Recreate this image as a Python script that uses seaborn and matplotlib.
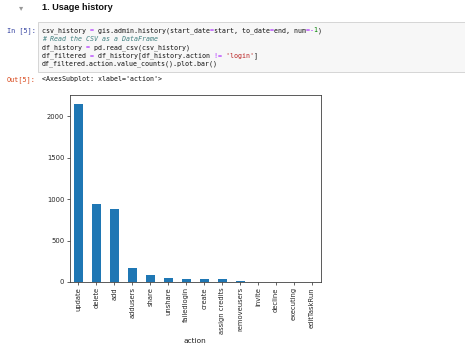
import matplotlib
matplotlib.use("Agg")
import matplotlib.pyplot as plt
import seaborn as sns
import pandas as pd
from matplotlib.patches import Rectangle

# bar data
actions = ["update", "delete", "add", "addusers", "share", "unshare", "failedlogin",
           "create", "assign credits", "removeusers", "invite", "decline",
           "executing", "editTaskRun"]
counts = [2150, 945, 880, 165, 85, 45, 36, 36, 36, 10, 6, 5, 1, 1]

# notebook text
heading = "1. Usage history"
code_lines = [
    [("csv_history ", "k"), ("=", "op"), (" gis.admin.history(start_date", "k"), ("=", "op"),
     ("start, to_date", "k"), ("=", "op"), ("end, num", "k"), ("=-", "op"), ("1", "num"), (")", "k")],
    [("# Read the CSV as a DataFrame", "com")],
    [("df_history ", "k"), ("=", "op"), (" pd.read_csv(csv_history)", "k")],
    [("df_filtered ", "k"), ("=", "op"), (" df_history[df_history.action ", "k"), ("!=", "op"),
     (" ", "k"), ("'login'", "str"), ("]", "k")],
    [("df_filtered.action.value_counts().plot.bar()", "k")],
]
out_text = "<AxesSubplot: xlabel='action'>"

colors = {"k": "#111111", "op": "#AA22FF", "num": "#008000", "str": "#BA2121", "com": "#408080"}

sns.set_style("ticks", {"axes.edgecolor": "0.25", "xtick.color": "0.15", "ytick.color": "0.15"})

W, H = 465, 356
fig = plt.figure(figsize=(W / 100, H / 100), dpi=100)


def fx(px):
    return px / W


def fy(py):
    return 1 - py / H


# heading
fig.text(fx(19), fy(8), "\u25be", fontsize=6, color="#999999", va="center", family="DejaVu Sans")
fig.text(fx(42), fy(8), heading, fontsize=6.6, fontweight="bold", va="center",
         family="Liberation Sans", color="#111111")

# code cell
fig.patches.append(Rectangle((fx(38), fy(72)), fx(W - 38), 50 / H, transform=fig.transFigure,
                             facecolor="#f7f7f7", edgecolor="#cfcfcf", linewidth=0.6))
fig.text(fx(7), fy(30.5), "In [5]:", fontsize=4.9, family="DejaVu Sans Mono",
         color="#303F9F", va="center")
for i, line in enumerate(code_lines):
    y = 30.5 + i * 8.35
    kinds = {kind for _, kind in line}
    # one full-width layer per colour, other characters blanked with spaces (monospace keeps alignment)
    for kind in kinds:
        layer = "".join(txt if k == kind else " " * len(txt) for txt, k in line)
        fig.text(fx(42), fy(y), layer, fontsize=4.8, family="DejaVu Sans Mono",
                 color=colors[kind], va="center",
                 style="italic" if kind == "com" else "normal")

fig.text(fx(7), fy(79.5), "Out[5]:", fontsize=4.9, family="DejaVu Sans Mono",
         color="#D84315", va="center")
fig.text(fx(42), fy(79.5), out_text, fontsize=4.8, family="DejaVu Sans Mono",
         color="#111111", va="center")

# chart
ax = fig.add_axes([fx(69.5), fy(282), fx(321 - 69.5), (282 - 95) / H])
df = pd.DataFrame({"action": actions, "count": counts})
sns.barplot(data=df, x="action", y="count", color="#1f77b4", saturation=1, width=0.5,
            edgecolor="none", linewidth=0, ax=ax)
ax.set_xlim(-0.5, len(actions) - 0.5)
ax.set_ylim(0, max(counts) * 1.05)
ax.set_yticks([0, 500, 1000, 1500, 2000])
ax.set_ylabel("")
ax.set_xlabel("action", fontsize=5.3, labelpad=3, color="#222222")
ax.tick_params(axis="x", labelrotation=90, labelsize=4.9, length=2.2, width=0.5, pad=1.5)
ax.tick_params(axis="y", labelsize=4.9, length=2.2, width=0.5, pad=1.5)
for s in ax.spines.values():
    s.set_linewidth(0.6)

fig.savefig("out.png", dpi=100)
